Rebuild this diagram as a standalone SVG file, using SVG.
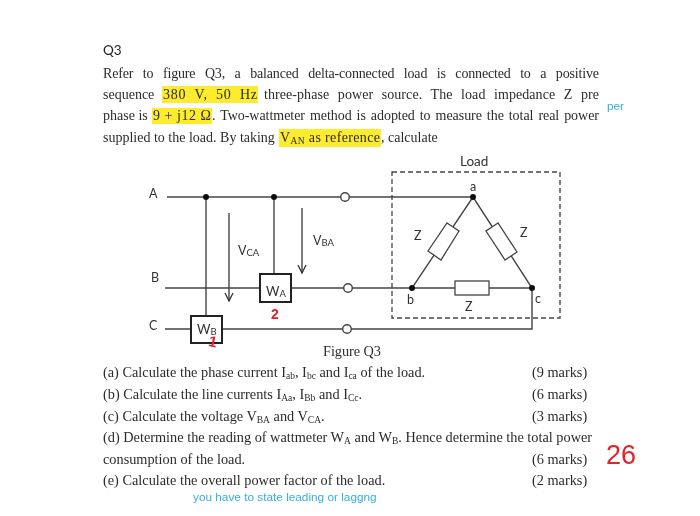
<svg xmlns="http://www.w3.org/2000/svg" width="700" height="516" viewBox="0 0 700 516">
<style>
.t{font-family:"Liberation Serif",serif;font-size:14px;fill:#2b2b2b}
.b{font-family:"Liberation Serif",serif;font-size:14.3px;fill:#2b2b2b}
.s{font-family:Lato,"Open Sans",sans-serif;font-size:12.5px;fill:#333}
.w{fill:none;stroke:#444;stroke-width:1.4}
.dot{fill:#111}
.oc{fill:#fff;stroke:#444;stroke-width:1.4}
.box{fill:#fff;stroke:#222;stroke-width:2}
.z{fill:#fff;stroke:#444;stroke-width:1.3}
.hl{fill:#fdec2e}
.blue{font-family:"Liberation Sans",sans-serif;font-size:11.8px;fill:#35aee0}
.red{font-family:"Liberation Sans",sans-serif;font-weight:bold;fill:#e3202a}
</style>
<defs>
<marker id="arr" markerWidth="12" markerHeight="12" refX="9" refY="5" orient="auto" markerUnits="userSpaceOnUse"><path d="M1 1L9 5L1 9" fill="none" stroke="#333" stroke-width="1.3"/></marker>
<filter id="soft" x="0" y="0" width="100%" height="100%"><feGaussianBlur stdDeviation="0.3"/></filter>
</defs>
<rect width="700" height="516" fill="#fff"/>
<g filter="url(#soft)">
<rect class="hl" x="162" y="86" width="96" height="17"/>
<rect class="hl" x="152" y="108" width="60" height="16"/>
<rect class="hl" x="279" y="129" width="102" height="18"/>
<g id="question">
<text x="103" y="55" style="font-family:Lato,sans-serif;font-size:13.5px;fill:#222">Q3</text>
<text class="t" x="103" y="78" word-spacing="6.2" textLength="496">Refer to figure Q3, a balanced delta-connected load is connected to a positive</text>
<text class="t" x="103" y="99">sequence</text>
<text class="t" x="163" y="99" word-spacing="4" textLength="94">380 V,  50 Hz</text>
<text class="t" x="264" y="99" word-spacing="5" textLength="335">three-phase   power source. The load impedance Z pre</text>
<text class="t" x="103" y="120">phase is</text>
<text class="t" x="153" y="120" textLength="58">9 + j12 Ω</text>
<text class="t" x="212" y="120" word-spacing="1.5" textLength="387">. Two-wattmeter method is adopted to measure the total real power</text>
<text class="t" x="103" y="142">supplied to the load. By taking</text>
<text class="t" x="280" y="142" textLength="100">V<tspan font-size="9.5" dy="2">AN</tspan><tspan dy="-2"> as reference</tspan></text>
<text class="t" x="381" y="142">, calculate</text>
<text class="blue" x="607" y="110">per</text>
</g>
<g id="connectors">
<path class="w" d="M167 197H473"/>
<path class="w" d="M165 288H412"/>
<path class="w" d="M165 329H532V288"/>
<path class="w" d="M206 197V316"/>
<path class="w" d="M274 197V274"/>
<path class="w" d="M229 213V301" marker-end="url(#arr)"/>
<path class="w" d="M302 208V273" marker-end="url(#arr)"/>
<path class="w" d="M473 197L412 288H532Z"/>
<rect x="392" y="172" width="168" height="146" fill="none" stroke="#444" stroke-width="1.3" stroke-dasharray="5 3"/>
</g>
<g id="node-A"><text class="s" x="149" y="198">A</text><circle class="dot" cx="206" cy="197" r="3"/><circle class="dot" cx="274" cy="197" r="3"/><circle class="oc" cx="345" cy="197" r="4.3"/></g>
<g id="node-B"><text class="s" x="151" y="282">B</text><circle class="oc" cx="348" cy="288" r="4.3"/></g>
<g id="node-C"><text class="s" x="149" y="330">C</text><circle class="oc" cx="347" cy="329" r="4.3"/></g>
<g id="meter-WA"><rect class="box" x="260" y="274" width="31" height="28"/><text class="s" x="266" y="296" style="font-size:13px">W<tspan font-size="9.5" dy="1">A</tspan></text></g>
<g id="meter-WB"><rect class="box" x="191" y="316" width="31" height="27"/><text class="s" x="197" y="334" style="font-size:13px">W<tspan font-size="9.5" dy="1">B</tspan></text></g>
<g id="label-VCA"><text class="s" x="238" y="255">V<tspan font-size="9.5" dy="1">CA</tspan></text></g>
<g id="label-VBA"><text class="s" x="313" y="245">V<tspan font-size="9.5" dy="1">BA</tspan></text></g>
<g id="load">
<text class="s" x="460" y="166" style="font-size:13.5px">Load</text>
<polygon class="z" points="447,223 459,231 441,260 428,251"/>
<polygon class="z" points="498,223 486,231 505,260 517,252"/>
<rect class="z" x="455" y="281" width="34" height="14"/>
<circle class="dot" cx="473" cy="197" r="3"/><circle class="dot" cx="412" cy="288" r="3"/><circle class="dot" cx="532" cy="288" r="3"/>
<text class="s" x="470" y="191">a</text><text class="s" x="407" y="304">b</text><text class="s" x="535" y="303">c</text>
<text class="s" x="414" y="240">Z</text><text class="s" x="520" y="237">Z</text><text class="s" x="465" y="311">Z</text>
</g>
<g id="parts">
<text class="b" x="323" y="356" textLength="58">Figure Q3</text>
<text class="b" x="103" y="377">(a) Calculate the phase current I<tspan font-size="9.5" dy="2">ab</tspan><tspan dy="-2">, I</tspan><tspan font-size="9.5" dy="2">bc</tspan><tspan dy="-2"> and I</tspan><tspan font-size="9.5" dy="2">ca</tspan><tspan dy="-2"> of the load.</tspan></text>
<text class="b" x="532" y="377">(9 marks)</text>
<text class="b" x="103" y="399">(b) Calculate the line currents I<tspan font-size="9.5" dy="2">Aa</tspan><tspan dy="-2">, I</tspan><tspan font-size="9.5" dy="2">Bb</tspan><tspan dy="-2"> and I</tspan><tspan font-size="9.5" dy="2">Cc</tspan><tspan dy="-2">.</tspan></text>
<text class="b" x="532" y="399">(6 marks)</text>
<text class="b" x="103" y="421">(c) Calculate the voltage V<tspan font-size="9.5" dy="2">BA</tspan><tspan dy="-2"> and V</tspan><tspan font-size="9.5" dy="2">CA</tspan><tspan dy="-2">.</tspan></text>
<text class="b" x="532" y="421">(3 marks)</text>
<text class="b" x="103" y="442">(d) Determine the reading of wattmeter W<tspan font-size="9.5" dy="2">A</tspan><tspan dy="-2"> and W</tspan><tspan font-size="9.5" dy="2">B</tspan><tspan dy="-2">. Hence determine the total power</tspan></text>
<text class="b" x="103" y="464">consumption of the load.</text>
<text class="b" x="532" y="464">(6 marks)</text>
<text class="b" x="103" y="485">(e) Calculate the overall power factor of the load.</text>
<text class="b" x="532" y="485">(2 marks)</text>
<text class="blue" x="193" y="501">you have to state leading or laggng</text>
</g>
<g id="annotations">
<text class="red" x="271" y="319" font-size="14">2</text>
<text class="red" x="209" y="347" font-size="15" transform="rotate(12 214 340)">1</text>
<text class="red" x="606" y="464" font-size="27" style="font-weight:normal">26</text>
</g>
</g>
</svg>
